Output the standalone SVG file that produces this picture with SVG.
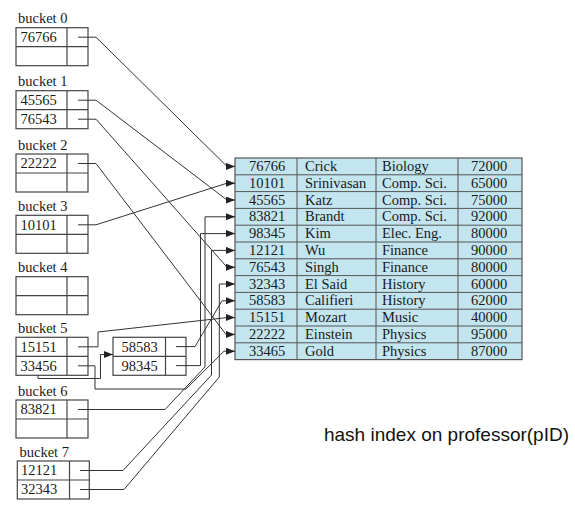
<svg xmlns="http://www.w3.org/2000/svg" width="575" height="512" viewBox="0 0 575 512">
<defs>
<marker id="ah" markerUnits="userSpaceOnUse" markerWidth="10" markerHeight="8" refX="9" refY="3.5" orient="auto">
<path d="M0,0 L9,3.5 L0,7 z" fill="#222"/>
</marker>
</defs>
<style>
text{font-family:"Liberation Serif","Times New Roman",serif;font-size:14.5px;fill:#1a1a1a}
.box{fill:#fff;stroke:#444;stroke-width:1.2}
.ln{stroke:#444;stroke-width:1.2;fill:none}
.tb{fill:#c3e5ef;stroke:#555;stroke-width:1.2}
.tl{stroke:#555;stroke-width:1}
.c{text-anchor:middle}
.ptr{stroke:#333;stroke-width:1;fill:none;marker-end:url(#ah)}
.cap{font-family:"Liberation Sans",Arial,sans-serif;font-size:19px;fill:#111;text-anchor:end}
</style>
<rect width="575" height="512" fill="#fff"/>

<g id="bucket0">
<text x="18" y="23">bucket 0</text>
<rect class="box" x="16" y="27.7" width="72" height="38"/>
<line class="ln" x1="67" y1="27.7" x2="67" y2="65.7"/>
<line class="ln" x1="16" y1="46.7" x2="88" y2="46.7"/>
<text x="20.5" y="42">76766</text>
</g>
<g id="bucket1">
<text x="18" y="86">bucket 1</text>
<rect class="box" x="16" y="90.7" width="72" height="38"/>
<line class="ln" x1="67" y1="90.7" x2="67" y2="128.7"/>
<line class="ln" x1="16" y1="109.7" x2="88" y2="109.7"/>
<text x="20.5" y="105">45565</text>
<text x="20.5" y="124">76543</text>
</g>
<g id="bucket2">
<text x="18" y="149.5">bucket 2</text>
<rect class="box" x="16" y="154" width="72" height="38"/>
<line class="ln" x1="67" y1="154" x2="67" y2="192"/>
<line class="ln" x1="16" y1="173" x2="88" y2="173"/>
<text x="20.5" y="168.3">22222</text>
</g>
<g id="bucket3">
<text x="18" y="210.8">bucket 3</text>
<rect class="box" x="16" y="215.3" width="72" height="38"/>
<line class="ln" x1="67" y1="215.3" x2="67" y2="253.3"/>
<line class="ln" x1="16" y1="234.3" x2="88" y2="234.3"/>
<text x="20.5" y="229.6">10101</text>
</g>
<g id="bucket4">
<text x="18" y="272.2">bucket 4</text>
<rect class="box" x="16" y="276.7" width="72" height="38"/>
<line class="ln" x1="67" y1="276.7" x2="67" y2="314.7"/>
<line class="ln" x1="16" y1="295.7" x2="88" y2="295.7"/>
</g>
<g id="bucket5">
<text x="18" y="332.8">bucket 5</text>
<rect class="box" x="16" y="337.3" width="72" height="38"/>
<line class="ln" x1="67" y1="337.3" x2="67" y2="375.3"/>
<line class="ln" x1="16" y1="356.3" x2="88" y2="356.3"/>
<text x="20.5" y="351.6">15151</text>
<text x="20.5" y="370.6">33456</text>
</g>
<g id="overflow5">
<rect class="box" x="113" y="337.3" width="73" height="38"/>
<line class="ln" x1="165.5" y1="337.3" x2="165.5" y2="375.3"/>
<line class="ln" x1="113" y1="356.3" x2="186" y2="356.3"/>
<text class="c" x="139.5" y="351.6">58583</text>
<text class="c" x="139.5" y="370.6">98345</text>
</g>
<g id="bucket6">
<text x="18" y="395.5">bucket 6</text>
<rect class="box" x="16" y="400" width="72" height="38"/>
<line class="ln" x1="67" y1="400" x2="67" y2="438"/>
<line class="ln" x1="16" y1="419" x2="88" y2="419"/>
<text x="20.5" y="414.3">83821</text>
</g>
<g id="bucket7">
<text x="19.5" y="456.5">bucket 7</text>
<rect class="box" x="17.3" y="461" width="72" height="38"/>
<line class="ln" x1="69.5" y1="461" x2="69.5" y2="499"/>
<line class="ln" x1="17.3" y1="480" x2="89.3" y2="480"/>
<text x="21" y="475.3">12121</text>
<text x="21" y="494.3">32343</text>
</g>

<g id="table">
<rect class="tb" x="235" y="158" width="287" height="201.6"/>
<g class="tl">
<line x1="235" y1="174.8" x2="522" y2="174.8"/>
<line x1="235" y1="191.6" x2="522" y2="191.6"/>
<line x1="235" y1="208.4" x2="522" y2="208.4"/>
<line x1="235" y1="225.2" x2="522" y2="225.2"/>
<line x1="235" y1="242" x2="522" y2="242"/>
<line x1="235" y1="258.8" x2="522" y2="258.8"/>
<line x1="235" y1="275.6" x2="522" y2="275.6"/>
<line x1="235" y1="292.4" x2="522" y2="292.4"/>
<line x1="235" y1="309.2" x2="522" y2="309.2"/>
<line x1="235" y1="326" x2="522" y2="326"/>
<line x1="235" y1="342.8" x2="522" y2="342.8"/>
<line x1="297" y1="158" x2="297" y2="359.6"/>
<line x1="376" y1="158" x2="376" y2="359.6"/>
<line x1="458" y1="158" x2="458" y2="359.6"/>
</g>
<g class="c">
<text x="267" y="171">76766</text>
<text x="267" y="187.8">10101</text>
<text x="267" y="204.6">45565</text>
<text x="267" y="221.4">83821</text>
<text x="267" y="238.2">98345</text>
<text x="267" y="255">12121</text>
<text x="267" y="271.8">76543</text>
<text x="267" y="288.6">32343</text>
<text x="267" y="305.4">58583</text>
<text x="267" y="322.2">15151</text>
<text x="267" y="339">22222</text>
<text x="267" y="355.8">33465</text>
</g>
<g>
<text x="305" y="171">Crick</text>
<text x="305" y="187.8">Srinivasan</text>
<text x="305" y="204.6">Katz</text>
<text x="305" y="221.4">Brandt</text>
<text x="305" y="238.2">Kim</text>
<text x="305" y="255">Wu</text>
<text x="305" y="271.8">Singh</text>
<text x="305" y="288.6">El Said</text>
<text x="305" y="305.4">Califieri</text>
<text x="305" y="322.2">Mozart</text>
<text x="305" y="339">Einstein</text>
<text x="305" y="355.8">Gold</text>
</g>
<g>
<text x="382" y="171">Biology</text>
<text x="382" y="187.8">Comp. Sci.</text>
<text x="382" y="204.6">Comp. Sci.</text>
<text x="382" y="221.4">Comp. Sci.</text>
<text x="382" y="238.2">Elec. Eng.</text>
<text x="382" y="255">Finance</text>
<text x="382" y="271.8">Finance</text>
<text x="382" y="288.6">History</text>
<text x="382" y="305.4">History</text>
<text x="382" y="322.2">Music</text>
<text x="382" y="339">Physics</text>
<text x="382" y="355.8">Physics</text>
</g>
<g class="c">
<text x="489" y="171">72000</text>
<text x="489" y="187.8">65000</text>
<text x="489" y="204.6">75000</text>
<text x="489" y="221.4">92000</text>
<text x="489" y="238.2">80000</text>
<text x="489" y="255">90000</text>
<text x="489" y="271.8">80000</text>
<text x="489" y="288.6">60000</text>
<text x="489" y="305.4">62000</text>
<text x="489" y="322.2">40000</text>
<text x="489" y="339">95000</text>
<text x="489" y="355.8">87000</text>
</g>
</g>

<g id="connectors">
<path class="ptr" d="M78,37.2 H96 L227,166.4 H235"/>
<path class="ptr" d="M78,100.2 H96 L227,200 H235"/>
<path class="ptr" d="M78,119.2 H96 L227,267.2 H235"/>
<path class="ptr" d="M78,163.5 H96 L226,334.4 H235"/>
<path class="ptr" d="M78,224.8 H96 L227,183.2 H235"/>
<path class="ptr" d="M78,346.8 H98 V332 L227,317.6 H235"/>
<path class="ptr" d="M78,365.8 H95 V389 H186 L224,351.2 H235"/>
<path class="ptr" d="M38,375.3 V378.5 H100.5 V354.5 H113"/>
<path class="ptr" d="M176,346.6 H195 L222,300.8 H235"/>
<path class="ptr" d="M176,365.6 H200.5 V233.6 H235"/>
<path class="ptr" d="M78,409.5 H165 L205,367 V216.8 H235"/>
<path class="ptr" d="M80,470.5 H123 L211.5,375 V250.4 H235"/>
<path class="ptr" d="M80,489.5 H124 L219.3,377 V284 H235"/>
</g>

<text class="cap" x="569" y="441">hash index on professor(pID)</text>
</svg>
